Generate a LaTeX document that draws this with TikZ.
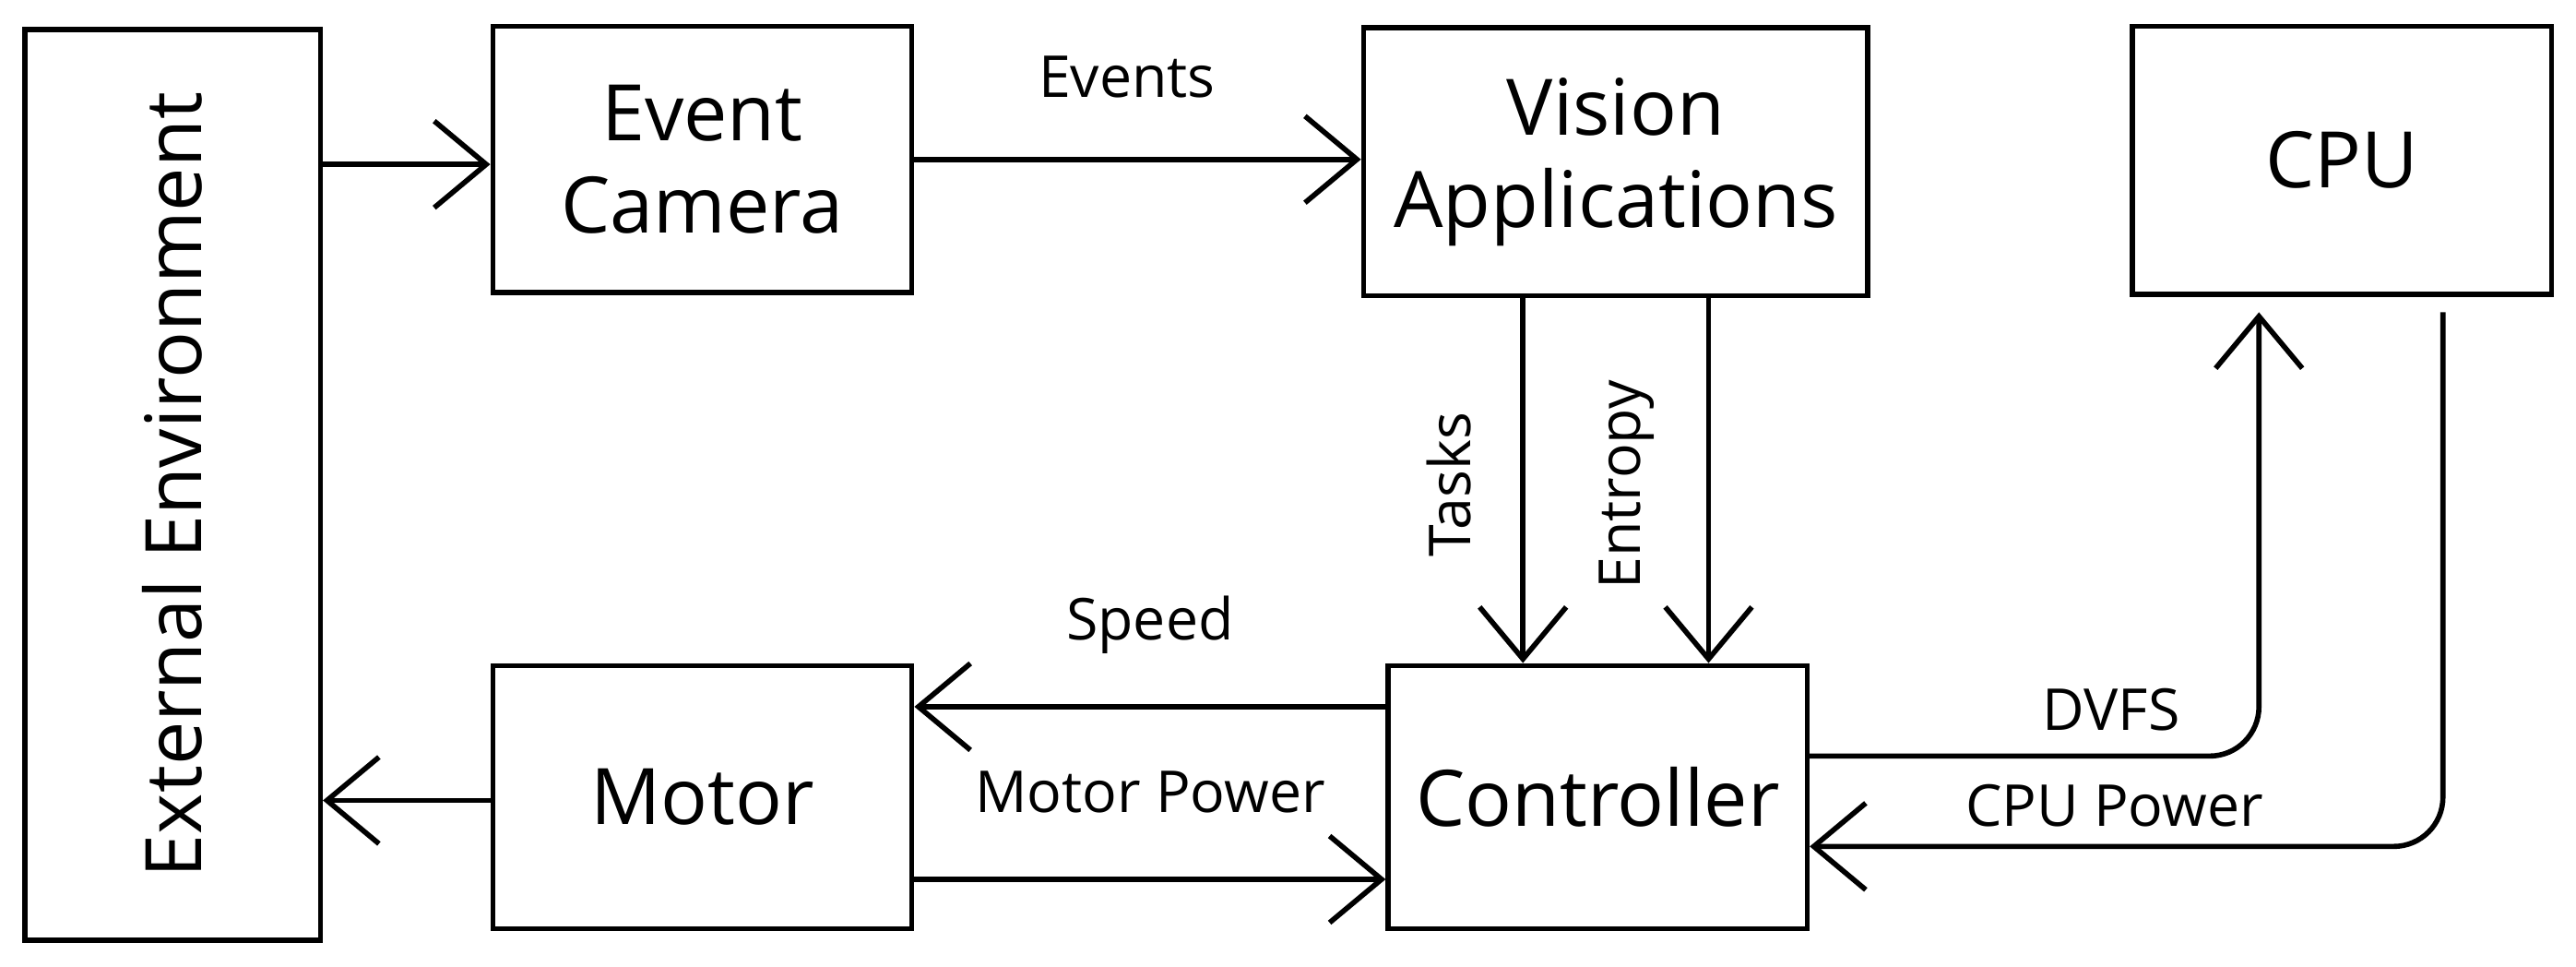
\documentclass[tikz,border=0pt]{standalone}
\usepackage{fontspec}
\setmainfont{Open Sans}
\usetikzlibrary{arrows.meta}
\begin{document}
\begin{tikzpicture}[x=0.02cm,y=-0.02cm,
  box/.style={draw,line width=1.8pt,inner sep=0pt,font=\fontsize{27}{32}\selectfont,align=center},
  arr/.style={line width=1.8pt,-{Straight Barb[length=18pt,width=30pt,line width=1.8pt]}},
  lab/.style={font=\fontsize{20}{24}\selectfont}]
\useasboundingbox (0,0) rectangle (1568,588);
\node[box,minimum width=180*0.02cm,minimum height=554*0.02cm] (env) at (105,295) {\rotatebox{90}{External Environment}};
\node[box,minimum width=255*0.02cm,minimum height=162*0.02cm] (cam) at (427.5,97) {Event\\Camera};
\node[box,minimum width=307*0.02cm,minimum height=163*0.02cm] (vis) at (983.5,98.5) {Vision\\Applications};
\node[box,minimum width=255*0.02cm,minimum height=163*0.02cm] (cpu) at (1425.5,97.5) {CPU};
\node[box,minimum width=255*0.02cm,minimum height=160*0.02cm] (mot) at (427.5,485) {Motor};
\node[box,minimum width=255*0.02cm,minimum height=160*0.02cm] (ctl) at (972.5,485) {Controller};
\draw[arr] (env.east |- 0,100) -- (cam.west |- 0,100);
\draw[arr] (cam.east |- 0,97) -- (vis.west |- 0,97);
\node[lab] (ev) at (686,47) {Events};
\draw[arr] (927,0 |- vis.south) -- (927,0 |- ctl.north);
\node[lab,rotate=90] (tasks) at (882,295) {Tasks};
\draw[arr] (1040,0 |- vis.south) -- (1040,0 |- ctl.north);
\node[lab,rotate=90] (entr) at (990,295) {Entropy};
\draw[arr] (ctl.west |- 0,430) -- (mot.east |- 0,430);
\node[lab] (spd) at (700,380) {Speed};
\draw[arr] (mot.east |- 0,535) -- (ctl.west |- 0,535);
\node[lab] (mp) at (700,482) {Motor Power};
\draw[arr] (mot.west |- 0,487) -- (env.east |- 0,487);
\coordinate (c1) at (1375,190);
\coordinate (c2) at (1487,190);
\draw[arr,rounded corners=30*0.02cm] (ctl.east |- 0,460) -- (1375,460) -- (c1);
\node[lab] (dvfs) at (1285,432) {DVFS};
\draw[arr,rounded corners=30*0.02cm] (c2) -- (1487,515) -- (ctl.east |- 0,515);
\node[lab] (cpp) at (1287,490) {CPU Power};
\end{tikzpicture}
\end{document}
